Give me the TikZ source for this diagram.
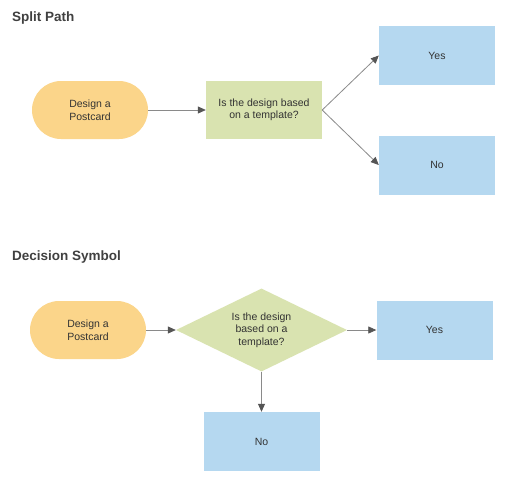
\documentclass[tikz,border=0pt]{standalone}
\usepackage{fontspec}
\setmainfont{Liberation Sans}
\usetikzlibrary{shapes.geometric,arrows.meta}
\definecolor{termfill}{HTML}{FBD58A}
\definecolor{procfill}{HTML}{D9E3B0}
\definecolor{boxfill}{HTML}{B5D8F0}
\definecolor{txt}{HTML}{333333}
\definecolor{titletxt}{HTML}{404040}
\definecolor{linegray}{HTML}{8A8A8A}
\definecolor{tipgray}{HTML}{555555}
\begin{document}
\begin{tikzpicture}[x=1pt,y=-1pt,
  every node/.style={font=\fontsize{10.5}{12.5}\selectfont, text=txt, align=center, inner sep=0pt},
  term/.style={fill=termfill, rounded corners=29pt, minimum width=116pt, minimum height=58pt},
  proc/.style={fill=procfill, minimum width=116pt, minimum height=58pt},
  outbox/.style={fill=boxfill, minimum width=116pt, minimum height=59pt},
  decis/.style={diamond, fill=procfill, minimum width=171pt, minimum height=83pt, aspect=2},
  heading/.style={font=\fontsize{13.5}{15}\bfseries, text=titletxt, anchor=base west},
  conn/.style={draw=linegray, line width=0.8pt, -{Triangle[length=8pt,width=7pt,color=tipgray]}}
]
\useasboundingbox[fill=white] (0,0) rectangle (521,491);
% Split Path
\node[heading] (t1) at (12,21) {Split Path};
\node[term] (a1) at (90,110) {Design a\\Postcard};
\node[proc] (b1) at (264,110) {Is the design based\\on a template?};
\node[outbox] (y1) at (437,55.5) {Yes};
\node[outbox] (n1) at (437,165) {No};
\draw[conn] (a1.east) -- (b1.west);
\draw[conn] (b1.east) -- (y1.west);
\draw[conn] (b1.east) -- (n1.west);
% Decision Symbol
\node[heading] (t2) at (12,260) {Decision Symbol};
\node[term] (a2) at (88,330) {Design a\\Postcard};
\node[decis] (d2) at (261.5,330) {Is the design\\based on a\\template?};
\node[outbox] (y2) at (434.5,330) {Yes};
\node[outbox] (n2) at (261.5,441.5) {No};
\draw[conn] (a2.east) -- (d2.west);
\draw[conn] (d2.east) -- (y2.west);
\draw[conn] (d2.south) -- (n2.north);
\end{tikzpicture}
\end{document}
